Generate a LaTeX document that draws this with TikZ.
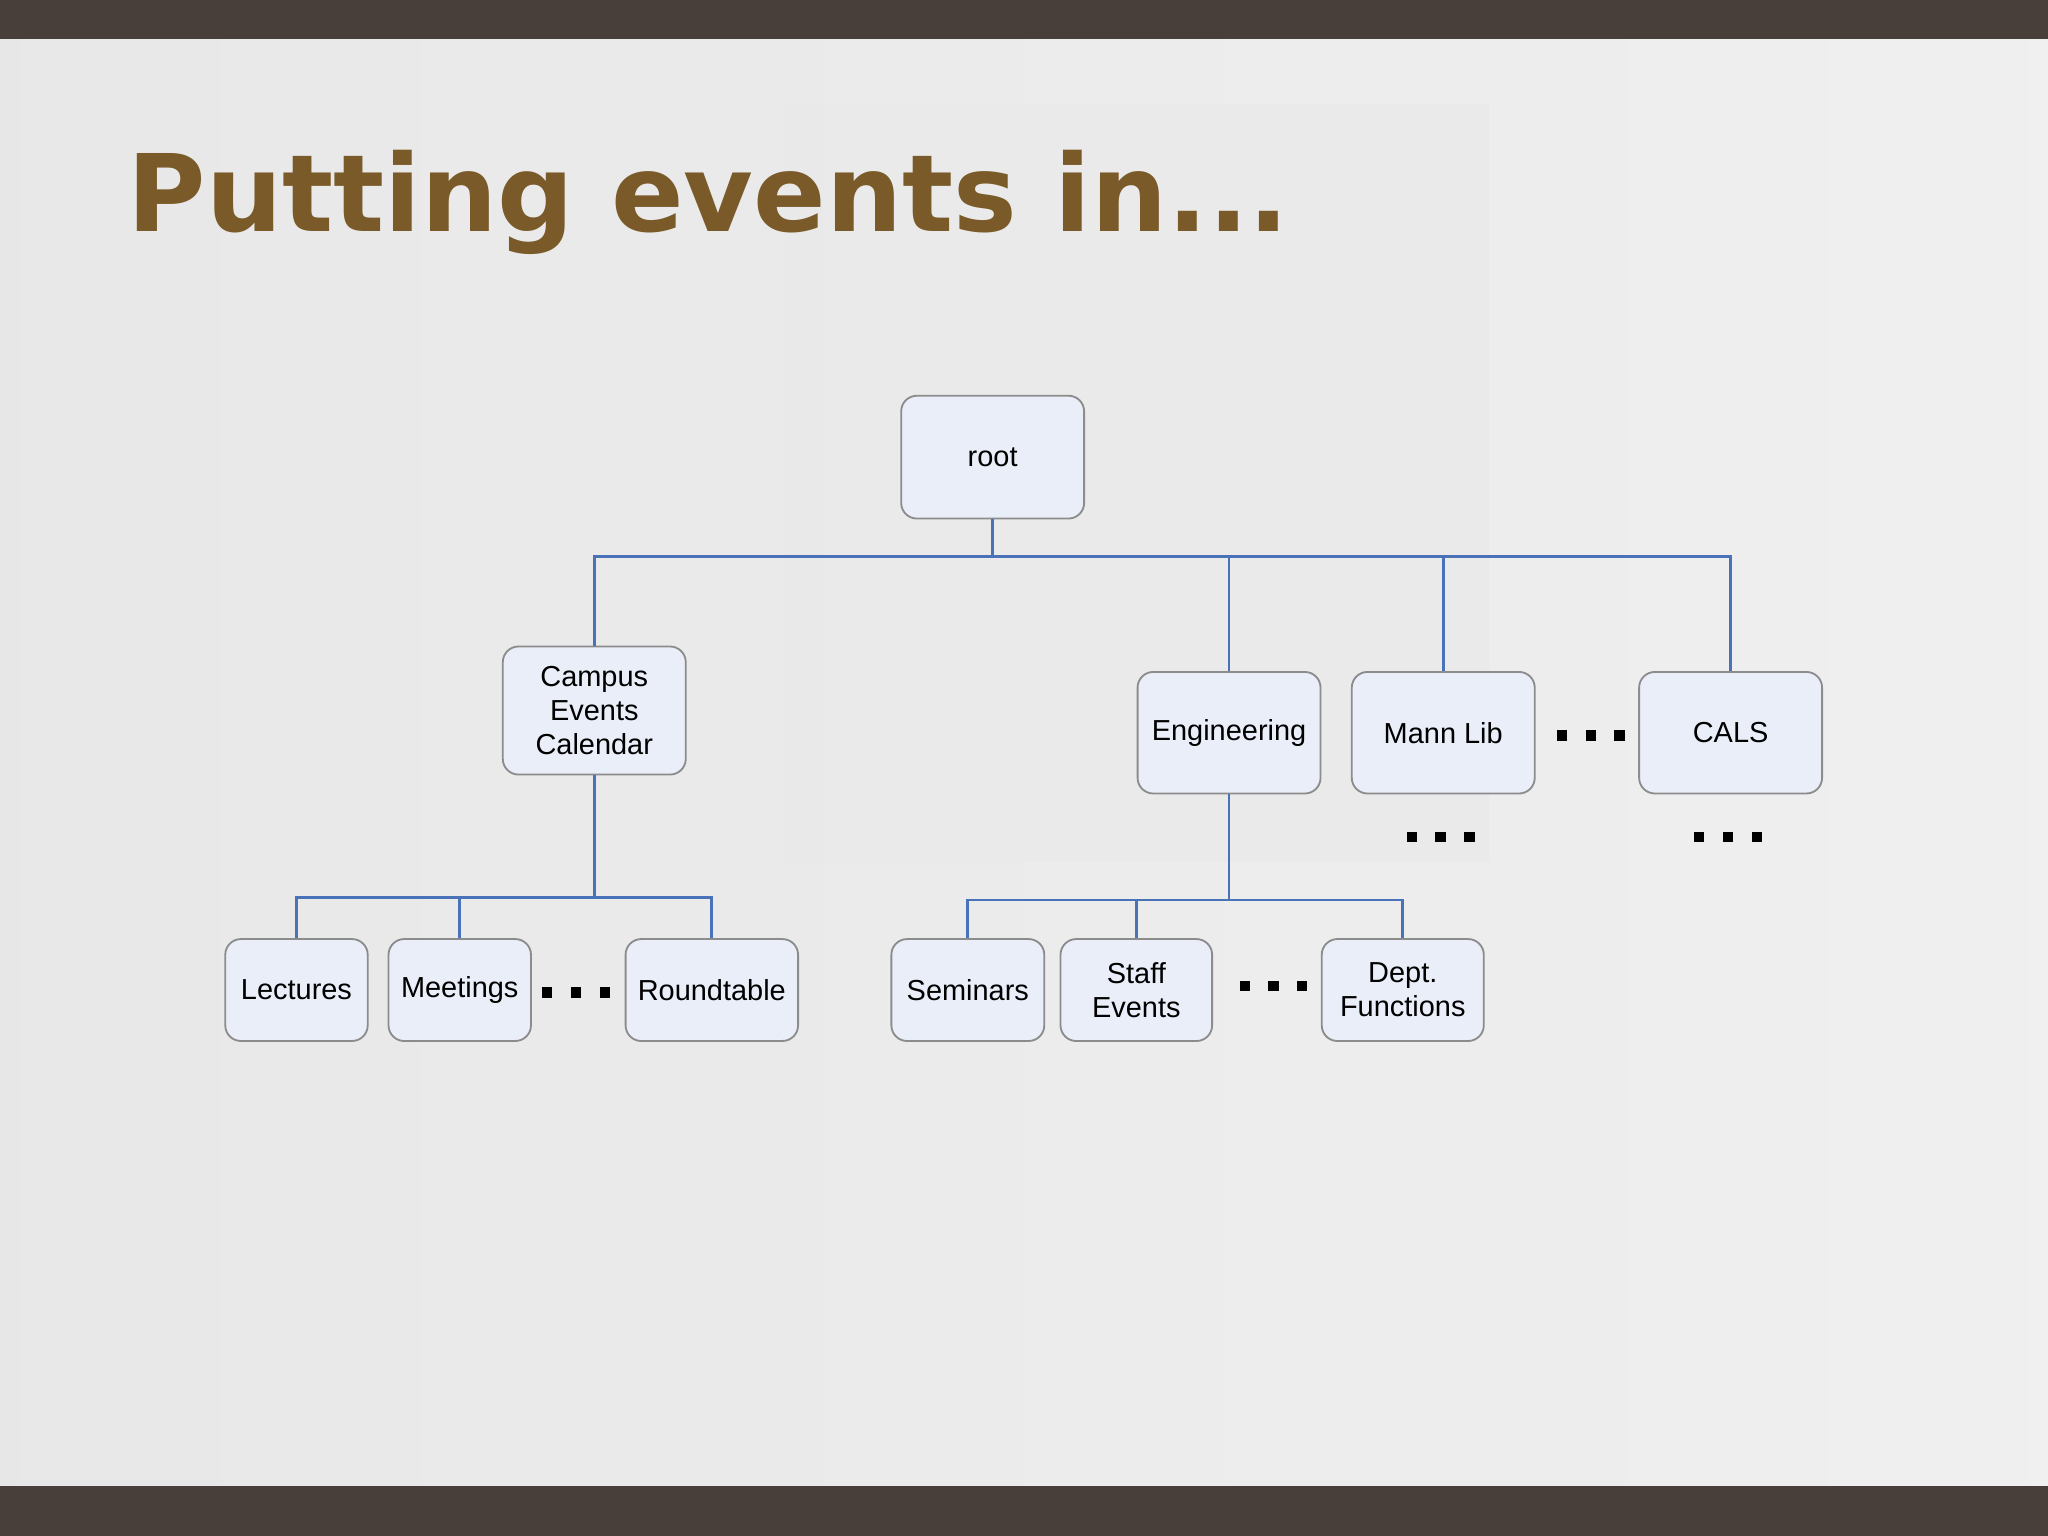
\documentclass[tikz,border=0pt]{standalone}
\usepackage{fontspec}
\setmainfont{Liberation Sans}
\newfontfamily\titfont{DejaVu Sans}
\definecolor{barc}{RGB}{72,62,58}
\definecolor{boxf}{RGB}{234,238,248}
\definecolor{linkc}{RGB}{74,114,184}
\definecolor{titc}{RGB}{122,90,40}
\begin{document}
\begin{tikzpicture}[x=0.01cm,y=-0.01cm,
  box/.style={draw=black!45,fill=boxf,rounded corners=0.12cm,align=center,font=\fontsize{6.3}{7.4}\selectfont,inner sep=0pt,line width=0.4pt},
  link/.style={draw=linkc,line width=0.6pt},
  dot/.style={fill=black}]
\fill[left color=black!12,right color=black!8] (0,0) rectangle (1568,1176);
\fill[black!12,opacity=0.4] (600,80) rectangle (1140,660);
\fill[white,opacity=0.25] (0,30) rectangle (1568,1138);
\fill[barc] (0,0) rectangle (1568,30);
\fill[barc] (0,1138) rectangle (1568,1176);
\node[anchor=west,font=\titfont\bfseries\fontsize{23.3}{28}\selectfont,text=titc,inner sep=0pt] (title) at (97,155) {Putting events in...};
\node[box,minimum width=1.40cm,minimum height=0.94cm] (root) at (760,350) {root};
\node[box,minimum width=1.40cm,minimum height=0.98cm] (campus) at (455,544) {Campus\\Events\\Calendar};
\node[box,minimum width=1.40cm,minimum height=0.93cm] (eng) at (941,561) {Engineering};
\node[box,minimum width=1.40cm,minimum height=0.93cm] (mann) at (1105,561) {Mann Lib};
\node[box,minimum width=1.40cm,minimum height=0.93cm] (cals) at (1325,561) {CALS};
\node[box,minimum width=1.09cm,minimum height=0.78cm] (lect) at (227,758) {Lectures};
\node[box,minimum width=1.09cm,minimum height=0.78cm] (meet) at (352,758) {Meetings};
\node[box,minimum width=1.32cm,minimum height=0.78cm] (round) at (545,758) {Roundtable};
\node[box,minimum width=1.17cm,minimum height=0.78cm] (sem) at (741,758) {Seminars};
\node[box,minimum width=1.16cm,minimum height=0.78cm] (staff) at (870,758) {Staff\\Events};
\node[box,minimum width=1.24cm,minimum height=0.78cm] (dept) at (1074,758) {Dept.\\Functions};
\coordinate (b0) at (760,426);
\coordinate (b1) at (455,687);
\coordinate (b2) at (941,689);
\draw[link] (root.south) -- (b0);
\foreach \n in {campus,eng,mann,cals} \draw[link] (b0) -| (\n.north);
\draw[link] (campus.south) -- (b1);
\foreach \n in {lect,meet,round} \draw[link] (b1) -| (\n.north);
\draw[link] (eng.south) -- (b2);
\foreach \n in {sem,staff,dept} \draw[link] (b2) -| (\n.north);
\foreach \cx/\cy in {1218/563,1103/641,1323/641,441/760,975/755}
  \foreach \d in {-22,0,22} \fill[dot] (\cx+\d-4,\cy-4) rectangle (\cx+\d+4,\cy+4);
\end{tikzpicture}
\end{document}
